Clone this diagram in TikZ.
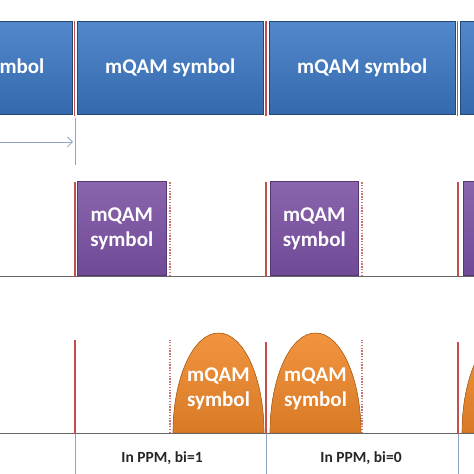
\documentclass[tikz,border=0pt]{standalone}
\usepackage{fontspec}
\setmainfont{Carlito}
\usepackage{xcolor}
\usetikzlibrary{arrows.meta, shadings}

\definecolor{qamblue}{HTML}{3B78C4}
\definecolor{qampurple}{HTML}{7A50A2}
\definecolor{qamorange}{HTML}{F0882A}
\definecolor{markred}{HTML}{C0504D}
\definecolor{guide}{HTML}{8FA6C4}

\begin{document}
\begin{tikzpicture}[x=1pt, y=1pt, >={Straight Barb[length=5pt, width=10pt]},
    font=\bfseries\fontsize{21}{25}\selectfont,
    symbolbox/.style={rectangle, inner sep=0pt, anchor=south west, text=white, align=center},
    bluebox/.style={symbolbox, minimum height=93pt, top color=qamblue!88!white, bottom color=qamblue!88!black, draw=qamblue!60!black, line width=0.6pt},
    purplebox/.style={symbolbox, minimum height=94pt, top color=qampurple!88!white, bottom color=qampurple!92!black, draw=qampurple!70!black, line width=0.6pt},
    dome/.style={top color=qamorange!90!white, bottom color=qamorange!90!black, draw=qamorange!75!black, line width=0.6pt},
    slotline/.style={markred, line width=1.8pt},
    slotend/.style={markred!80!white, line width=1.8pt, dash pattern=on 1.4pt off 1.4pt},
    divider/.style={markred, line width=1.4pt, preaction={draw, white, line width=4pt}},
    baseline/.style={gray!80!black, line width=0.8pt},
    guideline/.style={guide, line width=0.8pt},
    ppmlabel/.style={text=black!85, font=\bfseries\fontsize{15.5}{18}\selectfont}]

    \useasboundingbox (0,0) rectangle (474,474);
    \clip (0,0) rectangle (474,474);

    % 1. 顶部 mQAM 符号序列
    \foreach \xa/\nm in {-114/A, 77/B, 269/C, 460/D}{
        \node[bluebox, minimum width=186pt] (blk\nm) at (\xa,359) {mQAM symbol};
    }
    \foreach \xd in {74.5, 266, 457.5}{
        \draw[divider] (\xd,358) -- (\xd,453);
    }

    % 2. 符号周期箭头
    \coordinate (tsTop) at (75,356);
    \coordinate (tsBot) at (75,309);
    \coordinate (tsFrom) at (0,332);
    \coordinate (tsTo) at (73,332);
    \draw[guideline] (tsTop) -- (tsBot);
    \draw[guideline, ->] (tsFrom) -- (tsTo);

    % 3. 第二行: 紫色符号
    \draw[baseline] (0,198) -- (474,198);
    \node[purplebox, minimum width=89pt] (sym1) at (77,198) {mQAM\\symbol};
    \node[purplebox, minimum width=88pt] (sym2) at (270,198) {mQAM\\symbol};
    \node[purplebox, minimum width=88pt] (sym3) at (463,198) {mQAM\\symbol};
    \foreach \xs in {75, 266, 458}{
        \draw[slotline] (\xs,197) -- (\xs,292);
    }
    \foreach \xe in {170, 362}{
        \draw[slotend] (\xe,198) -- (\xe,292);
    }

    % 4. 第三行: PPM 脉冲
    \foreach \xa/\nm in {173/1, 270/2, 462/3}{
        \fill[dome] (\xa,41) arc[start angle=180, end angle=0, x radius=45.5, y radius=100] -- cycle;
        \node[text=white, align=center, inner sep=0pt] (pulse\nm) at (\xa+45.5,85) {mQAM\\symbol};
    }
    \draw[baseline] (0,41) -- (474,41);
    \foreach \xs/\yt in {75/134, 266/132, 458/132}{
        \draw[slotline] (\xs,40) -- (\xs,\yt);
        \draw[guideline] (\xs,40) -- (\xs,0);
    }
    \foreach \xe in {170, 362}{
        \draw[slotend] (\xe,41) -- (\xe,134);
    }

    % 5. 标注
    \node[ppmlabel] (ppmOne) at (162,16) {In PPM, bi=1};
    \node[ppmlabel] (ppmZero) at (361,16) {In PPM, bi=0};

\end{tikzpicture}
\end{document}
